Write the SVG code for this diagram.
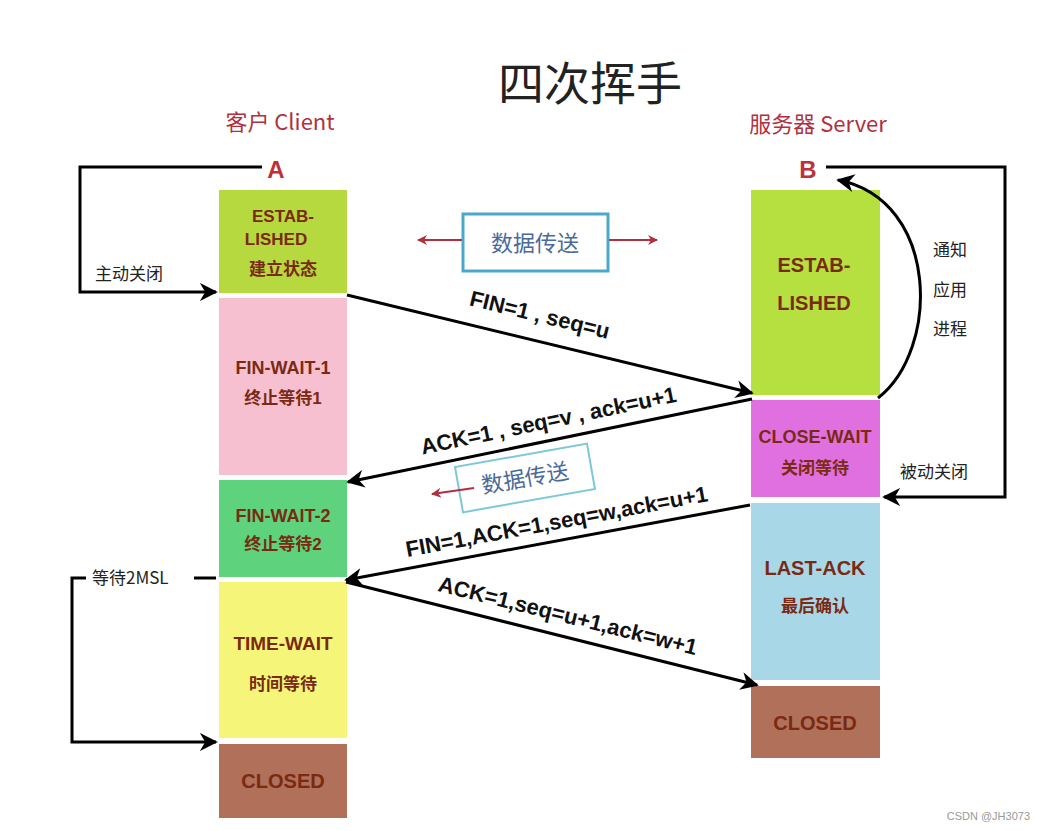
<svg xmlns="http://www.w3.org/2000/svg" width="1048" height="831" viewBox="0 0 1048 831">
<defs>
<marker id="ah" viewBox="0 0 10 10" refX="9" refY="5" markerWidth="6" markerHeight="6" orient="auto-start-reverse"><path d="M0,0 L10,5 L0,10 L3,5 z" fill="#000"/></marker>
<marker id="rh" viewBox="0 0 10 10" refX="9" refY="5" markerWidth="5" markerHeight="5" orient="auto"><path d="M0,0 L10,5 L0,10 L3,5 z" fill="#b03040"/></marker>
<style>
.st{font-family:"Liberation Sans","Noto Sans CJK SC",sans-serif;font-weight:bold;fill:#7a2a12;text-anchor:middle}
.ln{stroke:#000;stroke-width:3;fill:none}
.lb{font-family:"Liberation Sans","Noto Sans CJK SC",sans-serif;font-weight:bold;font-size:22px;fill:#111;text-anchor:middle}
.sm{font-family:"Noto Sans CJK SC",sans-serif;font-size:17px;fill:#222}
.rd{stroke:#b03040;stroke-width:2;fill:none}
</style>
</defs>
<rect width="1048" height="831" fill="#fff"/>
<text x="590" y="100" font-family="Noto Sans CJK SC,sans-serif" font-size="46" text-anchor="middle" fill="#222">四次挥手</text>
<text x="280" y="130" font-family="Noto Sans CJK SC,sans-serif" font-size="22" text-anchor="middle" fill="#b03040">客户 Client</text>
<text x="818" y="132" font-family="Noto Sans CJK SC,sans-serif" font-size="22" text-anchor="middle" fill="#b03040">服务器 Server</text>
<text x="276" y="178" font-family="Liberation Sans,sans-serif" font-weight="bold" font-size="24" text-anchor="middle" fill="#c0303a">A</text>
<text x="808" y="178" font-family="Liberation Sans,sans-serif" font-weight="bold" font-size="24" text-anchor="middle" fill="#c0303a">B</text>
<g id="c-estab"><rect x="219" y="190" width="128" height="103" fill="#b5d93e"/><text class="st" x="283" y="222" font-size="17">ESTAB-</text><text class="st" x="276" y="245" font-size="17">LISHED</text><text class="st" x="283" y="275" font-size="17">建立状态</text></g>
<g id="c-fw1"><rect x="219" y="298" width="128" height="177" fill="#f7c0d0"/><text class="st" x="283" y="374" font-size="18" fill="#a02040">FIN-WAIT-1</text><text class="st" x="283" y="404" font-size="17">终止等待1</text></g>
<g id="c-fw2"><rect x="219" y="480" width="128" height="97" fill="#5ed27c"/><text class="st" x="283" y="522" font-size="18">FIN-WAIT-2</text><text class="st" x="283" y="550" font-size="17">终止等待2</text></g>
<g id="c-tw"><rect x="219" y="582" width="128" height="156" fill="#f5f57a"/><text class="st" x="283" y="650" font-size="19">TIME-WAIT</text><text class="st" x="283" y="690" font-size="17">时间等待</text></g>
<g id="c-closed"><rect x="219" y="744" width="128" height="74" fill="#b0705a"/><text class="st" x="283" y="788" font-size="20">CLOSED</text></g>
<g id="s-estab"><rect x="751" y="190" width="129" height="205" fill="#b5e03f"/><text class="st" x="814" y="272" font-size="20">ESTAB-</text><text class="st" x="814" y="310" font-size="20">LISHED</text></g>
<g id="s-cw"><rect x="751" y="400" width="129" height="97" fill="#e070e0"/><text class="st" x="815" y="443" font-size="18">CLOSE-WAIT</text><text class="st" x="815" y="474" font-size="17">关闭等待</text></g>
<g id="s-la"><rect x="751" y="503" width="129" height="177" fill="#a8d8e8"/><text class="st" x="815" y="575" font-size="20">LAST-ACK</text><text class="st" x="815" y="612" font-size="17">最后确认</text></g>
<g id="s-closed"><rect x="751" y="686" width="129" height="72" fill="#b0705a"/><text class="st" x="815" y="730" font-size="20">CLOSED</text></g>
<g id="data1"><rect x="463" y="214" width="145" height="57" fill="#fff" stroke="#4aa8c8" stroke-width="3"/><text x="535" y="251" font-family="Noto Sans CJK SC,sans-serif" font-size="22" fill="#4a6a9a" text-anchor="middle">数据传送</text></g>
<g id="data2" transform="rotate(-10 525 478)"><rect x="458" y="455" width="134" height="46" fill="#fff" stroke="#7cc8d8" stroke-width="2"/><text x="525" y="486" font-family="Noto Sans CJK SC,sans-serif" font-size="22" fill="#4a6a9a" text-anchor="middle">数据传送</text></g>
<g id="connectors">
<line class="rd" x1="462" y1="240" x2="418" y2="240" marker-end="url(#rh)"/>
<line class="rd" x1="609" y1="240" x2="657" y2="240" marker-end="url(#rh)"/>
<line class="rd" x1="474" y1="488" x2="432" y2="494" marker-end="url(#rh)"/>
<polyline class="ln" points="262,167 80,167 80,292 216,292" marker-end="url(#ah)"/>
<polyline class="ln" points="826,167 1005,167 1005,497 884,497" marker-end="url(#ah)"/>
<polyline class="ln" points="216,578 72,578 72,742 216,742" marker-end="url(#ah)"/>
<path class="ln" d="M878,398 C940,350 940,200 838,180" marker-end="url(#ah)"/>
<line class="ln" x1="347" y1="295" x2="752" y2="393" marker-end="url(#ah)"/>
<line class="ln" x1="752" y1="399" x2="348" y2="482" marker-end="url(#ah)"/>
<line class="ln" x1="750" y1="505" x2="346" y2="580" marker-end="url(#ah)"/>
<line class="ln" x1="346" y1="582" x2="757" y2="685" marker-end="url(#ah)"/>
<text class="lb" transform="translate(538,322) rotate(13.6)">FIN=1 , seq=u</text>
<text class="lb" transform="translate(550,428) rotate(-11.7)">ACK=1 , seq=v , ack=u+1</text>
<text class="lb" transform="translate(558,529) rotate(-10.5)">FIN=1,ACK=1,seq=w,ack=u+1</text>
<text class="lb" transform="translate(566,623) rotate(14)">ACK=1,seq=u+1,ack=w+1</text>
</g>
<text class="sm" x="95" y="280">主动关闭</text>
<text class="sm" x="900" y="478">被动关闭</text>
<rect x="86" y="566" width="108" height="24" fill="#fff"/>
<text class="sm" x="92" y="584">等待2MSL</text>
<text class="sm" x="933" y="256">通知</text>
<text class="sm" x="933" y="296">应用</text>
<text class="sm" x="933" y="335">进程</text>
<text x="1030" y="820" font-family="Liberation Sans,sans-serif" font-size="11" fill="#999" text-anchor="end">CSDN @JH3073</text>
</svg>
